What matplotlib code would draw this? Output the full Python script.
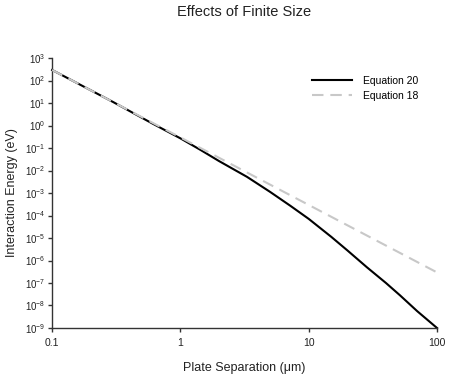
import matplotlib
matplotlib.use("Agg")
import matplotlib.pyplot as plt
import numpy as np
from matplotlib.ticker import FixedLocator, LogFormatterSciNotation, NullLocator

plt.rcParams["font.family"] = ["Liberation Sans", "DejaVu Sans"]
plt.rcParams["mathtext.fontset"] = "custom"
plt.rcParams["mathtext.rm"] = "Liberation Sans"
plt.rcParams["mathtext.it"] = "Liberation Sans:italic"

# plate separation (um) and log10 of interaction energy (eV)
sep_eq20 = [0.1, 0.3, 0.6, 1.0, 1.43, 2.0, 3.3, 5.0, 7.2, 10.0, 15.0, 20.0,
            28.4, 40.0, 51.5, 70.0, 100.0]
log_energy_eq20 = [2.47, 1.04, 0.1, -0.57, -1.08, -1.58, -2.28, -2.95, -3.57, -4.15,
                   -4.95, -5.55, -6.3, -7.0, -7.55, -8.25, -9.0]

sep_eq18 = [0.1, 1.0, 10.0, 100.0]
log_energy_eq18 = [2.47, -0.53, -3.53, -6.53]

y_ticks = [10.0 ** k for k in range(-9, 4)]
x_ticks = [0.1, 1, 10, 100]
x_tick_labels = ["0.1", "1", "10", "100"]

fig = plt.figure(figsize=(4.74, 3.77), dpi=100)
ax = fig.add_axes([0.110, 0.130, 0.812, 0.716])

ax.plot(sep_eq20, 10.0 ** np.array(log_energy_eq20), color="black", lw=1.5,
        label="Equation 20", zorder=2, clip_on=False)
# the dashed curve sits on top of the solid one where they overlap
ax.plot(sep_eq18, 10.0 ** np.array(log_energy_eq18), color="#c8c8c8", lw=1.5,
        dashes=(5.5, 3.3), label="Equation 18", zorder=3)

ax.set_xscale("log")
ax.set_yscale("log")
ax.set_xlim(0.1, 100)
ax.set_ylim(1e-9, 1e3)

ax.xaxis.set_major_locator(FixedLocator(x_ticks))
ax.set_xticklabels(x_tick_labels)
ax.xaxis.set_minor_locator(NullLocator())
ax.yaxis.set_major_locator(FixedLocator(y_ticks))
ax.yaxis.set_major_formatter(LogFormatterSciNotation())
ax.yaxis.set_minor_locator(NullLocator())

for side in ("top", "right"):
    ax.spines[side].set_visible(False)
for side in ("left", "bottom"):
    ax.spines[side].set_linewidth(1.0)
    ax.spines[side].set_color("#333333")

ax.tick_params(axis="both", direction="out", length=3, width=1.0, colors="#333333",
               labelsize=7, labelcolor="#222222", pad=2)
ax.tick_params(axis="x", labelsize=7.5, pad=4)

ax.set_xlabel("Plate Separation (\u03bcm)", fontsize=9, color="#222222", labelpad=10)
ax.set_ylabel("Interaction Energy (eV)", fontsize=9, color="#222222", labelpad=5)
fig.suptitle("Effects of Finite Size", x=0.515, y=0.968, va="center",
             fontsize=10.5, color="#222222")

ax.legend(loc="upper left", bbox_to_anchor=(311.7 / 474, 1 - 75.5 / 377),
          bbox_transform=fig.transFigure, frameon=False, fontsize=7.5,
          borderpad=0, borderaxespad=0, handlelength=3.85, handletextpad=1.05,
          labelspacing=0.5)

fig.savefig("out.png", dpi=100)
